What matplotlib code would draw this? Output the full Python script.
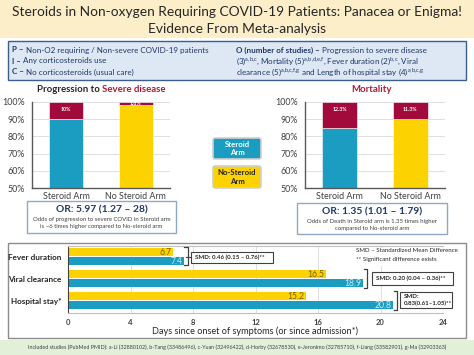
import numpy as np
import matplotlib
matplotlib.use('Agg')
import matplotlib.pyplot as plt
from matplotlib.patches import Rectangle, FancyBboxPatch

plt.rcParams['font.family'] = ['Lato', 'DejaVu Sans']
plt.rcParams['mathtext.fontset'] = 'custom'
plt.rcParams['mathtext.rm'] = 'Lato'

teal = '#1A9DC0'
gold = '#FCD200'
maroon = '#A20A3C'
red = '#B0183A'
navy = '#1F3864'
dark = '#262626'
grey = '#404040'

# data
arms = ['Steroid Arm', 'No Steroid Arm']
sev_base = [90, 98.2]
sev_top = [10, 1.8]
sev_lbl = ['10%', '1.8%']
mort_base = [85, 90]
mort_top = [15, 10]
mort_lbl = ['12.3%', '11.3%']

outcomes = ['Fever duration', 'Viral clearance', 'Hospital stay*']
days_no_ster = [6.7, 16.5, 15.2]
days_ster = [7.4, 18.9, 20.8]

W, H = 474, 355
fig = plt.figure(figsize=(W / 100, H / 100), dpi=100)
fig.patch.set_facecolor('white')


def box(x0, y0, x1, y1):
    return [x0 / W, 1 - y1 / H, (x1 - x0) / W, (y1 - y0) / H]


def pix_axes(zorder):
    a = fig.add_axes([0, 0, 1, 1], zorder=zorder)
    a.set_xlim(0, W)
    a.set_ylim(H, 0)
    a.axis('off')
    a.patch.set_alpha(0)
    return a


def sup(s):
    return r'$^{\mathrm{' + s.replace(',', '{,}') + '}}$'


bg = pix_axes(0)

# title band
bg.add_patch(Rectangle((0, 0), W, 38, color='#FCEEC8', lw=0))
bg.text(W / 2, 12, 'Steroids in Non-oxygen Requiring COVID-19 Patients: Panacea or Enigma!',
        ha='center', va='center', fontsize=9.9, color=dark)
bg.text(W / 2, 29, 'Evidence From Meta-analysis', ha='center', va='center', fontsize=9.9, color=dark)

# PICO box
bg.add_patch(Rectangle((8, 41), 458, 39, facecolor='#DDE8F4', edgecolor='#3B5E8C', lw=1))


def chain(ax, x, y, parts, size, va='center'):
    s, kw = parts[0]
    t0 = t = ax.text(x, y, s, fontsize=size, va=va, **kw)
    for s, kw in parts[1:]:
        t = ax.annotate(s, xy=(1, 0), xycoords=t, va='bottom', fontsize=size, **kw)
    return t0


B = dict(fontweight='bold', color=navy)
R = dict(color=navy)
fs = 5.8
chain(bg, 12, 50, [('P – ', B), ('Non-O2 requiring / Non-severe COVID-19 patients', R)], fs)
chain(bg, 12, 61, [('I – ', B), ('Any corticosteroids use', R)], fs)
chain(bg, 12, 72, [('C – ', B), ('No corticosteroids (usual care)', R)], fs)
chain(bg, 236, 50, [('O (number of studies) – ', B), ('Progression to severe disease', R)], fs)
bg.text(236, 61, '(3)' + sup('a,b,c') + ', Mortality (5)' + sup('a,b,d,e,f') + ', Fever duration (2)'
        + sup('b,c') + ', Viral', fontsize=fs, va='center', color=navy)
bg.text(236, 72, 'clearance (5)' + sup('a,b,c,f,g') + ' and Length of hospital stay (4)' + sup('a,b,c,g'),
        fontsize=fs, va='center', color=navy)

# bottom panel and footer
bg.add_patch(Rectangle((8, 243), 458, 95, facecolor='white', edgecolor='#8C8C8C', lw=1))
bg.add_patch(Rectangle((0, 340), W, 15, color='#E2EFD9', lw=0))
bg.text(W / 2, 347.5, 'Included studies (PubMed PMID): a-Li (32880102), b-Tang (33486496), c-Yuan (32496422), '
        'd-Horby (32678530), e-Jeronimo (32785710), f-Liang (33582901), g-Ma (32903363)',
        ha='center', va='center', fontsize=3.85, color=grey)


def stack(rect, base, top, lbl):
    ax = fig.add_axes(rect, zorder=1)
    x = np.arange(len(base))
    ax.bar(x, base, width=0.49, color=[teal, gold], edgecolor='white', lw=0.4, zorder=2)
    ax.bar(x, top, bottom=base, width=0.49, color=maroon, edgecolor='white', lw=0.4, zorder=2)
    for xi, t, l in zip(x, top, lbl):
        ax.text(xi, 100 - min(t, 9) / 2, l, ha='center', va='center', fontsize=3.8,
                fontweight='bold', color='white', zorder=3)
    ax.set_xlim(-0.49, 1.49)
    ax.set_ylim(50, 100)
    ax.set_yticks(range(50, 101, 10))
    ax.set_yticklabels([f'{v}%' for v in range(50, 101, 10)])
    ax.set_xticks(x)
    ax.set_xticklabels(arms)
    ax.tick_params(length=0, labelsize=6.4, colors=grey)
    ax.tick_params(axis='y', pad=5)
    ax.tick_params(axis='x', pad=3)
    ax.grid(axis='y', color='#D9D9D9', lw=0.6, zorder=0)
    for s in ['top', 'right']:
        ax.spines[s].set_visible(False)
    for s in ['left', 'bottom']:
        ax.spines[s].set_color('#595959')
        ax.spines[s].set_linewidth(1)
    return ax


stack(box(32, 102, 170, 188), sev_base, sev_top, sev_lbl)
stack(box(305, 102, 445, 188), mort_base, mort_top, mort_lbl)

# horizontal bars
hx = fig.add_axes(box(68, 246, 443, 313), zorder=1)
y = np.arange(len(outcomes))
hx.barh(y - 0.2, days_no_ster, height=0.36, color=gold, zorder=2)
hx.barh(y + 0.2, days_ster, height=0.36, color=teal, zorder=2)
for yi, a, b in zip(y, days_no_ster, days_ster):
    hx.text(a - 0.1, yi - 0.2, f'{a}', ha='right', va='center', fontsize=6.2, color='#7F6000', zorder=3)
    hx.text(b - 0.1, yi + 0.2, f'{b}', ha='right', va='center', fontsize=6.2, color='#C8EEFA', zorder=3)
    xb = max(a, b) + 0.25
    hx.plot([xb - 0.2, xb, xb, xb - 0.2], [yi - 0.44, yi - 0.44, yi + 0.4, yi + 0.4],
            color='#404040', lw=0.9, clip_on=False, zorder=4)
hx.set_xlim(0, 24)
hx.set_ylim(2.55, -0.48)
hx.set_xticks(range(0, 25, 4))
hx.set_yticks(y)
hx.set_yticklabels(outcomes, fontweight='bold')
hx.tick_params(length=0, colors=dark)
hx.tick_params(axis='y', labelsize=5.9, pad=4.5)
hx.tick_params(axis='x', labelsize=5.5, pad=4)
for lab in hx.get_xticklabels():
    lab.set_fontweight('bold')
    lab.set_color(grey)
hx.set_xlabel('Days since onset of symptoms (or since admission*)', fontsize=6.6, color=dark, labelpad=1)
hx.grid(axis='x', color='#D9D9D9', lw=0.6, zorder=0)
hx.spines['right'].set_visible(False)
hx.spines['left'].set_color('#404040')
for s in ['top', 'bottom']:
    hx.spines[s].set_color('#BFBFBF')
    hx.spines[s].set_linewidth(0.8)

ov = pix_axes(5)

# chart titles
t1 = chain(ov, 0, 89, [('Progression to ', dict(fontweight='bold', color=dark)),
                       ('Severe disease', dict(fontweight='bold', color=red))], 6.9)
ov.text(372, 89, 'Mortality', ha='center', va='center', fontsize=6.9, fontweight='bold', color=red)

# legend
ov.add_patch(FancyBboxPatch((213, 138), 48, 21, boxstyle='round,pad=0,rounding_size=2',
                            facecolor=teal, edgecolor='#D0D0D0', lw=1.2))
ov.text(237, 148.5, 'Steroid\nArm', ha='center', va='center', fontsize=5.6, fontweight='bold',
        color='white', linespacing=1.3)
ov.add_patch(FancyBboxPatch((213, 166), 48, 22, boxstyle='round,pad=0,rounding_size=2',
                            facecolor=gold, edgecolor='#D0D0D0', lw=1.2))
ov.text(237, 177, 'No-Steroid\nArm', ha='center', va='center', fontsize=5.6, fontweight='bold',
        color=dark, linespacing=1.3)

# OR boxes
ov.add_patch(Rectangle((27, 201), 149, 32, facecolor='white', edgecolor='#8EA9C1', lw=1))
ov.text(101.5, 210, 'OR: 5.97 (1.27 – 28)', ha='center', va='center', fontsize=7.4,
        fontweight='bold', color=navy)
ov.text(101.5, 223, 'Odds of progression to severe COVID in Steroid arm\nis ~6 times higher compared to No-steroid arm',
        ha='center', va='center', fontsize=4.3, color=grey, linespacing=1.35)
ov.add_patch(Rectangle((297, 203), 150, 31, facecolor='white', edgecolor='#8EA9C1', lw=1))
ov.text(372, 212, 'OR: 1.35 (1.01 – 1.79)', ha='center', va='center', fontsize=7.4,
        fontweight='bold', color=navy)
ov.text(372, 225, 'Odds of Death in Steroid arm is 1.35 times higher\ncompared to No-steroid arm',
        ha='center', va='center', fontsize=4.3, color=grey, linespacing=1.35)

# SMD note and boxes
ov.add_patch(Rectangle((352, 247.5), 110, 18, color='white', lw=0))
ov.text(356, 251, 'SMD – Standardized Mean Difference', va='center', fontsize=4.4, color=dark)
ov.text(356, 259, '** Significant difference exists', va='center', fontsize=4.4, color=dark)

smd_boxes = [((191, 252, 82, 10.5), 'SMD: 0.46 (0.15 – 0.76)**'),
             ((372, 272, 81, 13), 'SMD: 0.20 (0.04 – 0.36)**'),
             ((400, 292, 52, 16), 'SMD:\n0.83(0.61–1.05)**')]
for (bx, by, bw, bh), s in smd_boxes:
    ov.add_patch(Rectangle((bx, by), bw, bh, facecolor='white', edgecolor='#404040', lw=0.8))
    ov.text(bx + 4, by + bh / 2, s, va='center', fontsize=4.4, fontweight='bold', color=dark,
            linespacing=1.5)
ov.plot([186.5, 191], [256.5, 256.5], color='#404040', lw=0.8)

# centre the two-part title over the left chart
r = fig.canvas.get_renderer()
kids = [t1] + [c for c in ov.texts if isinstance(c, matplotlib.text.Annotation)]
wpx = sum(k.get_window_extent(r).width for k in kids)
t1.set_x(101 - wpx / 2)

fig.savefig('out.png', dpi=100)
